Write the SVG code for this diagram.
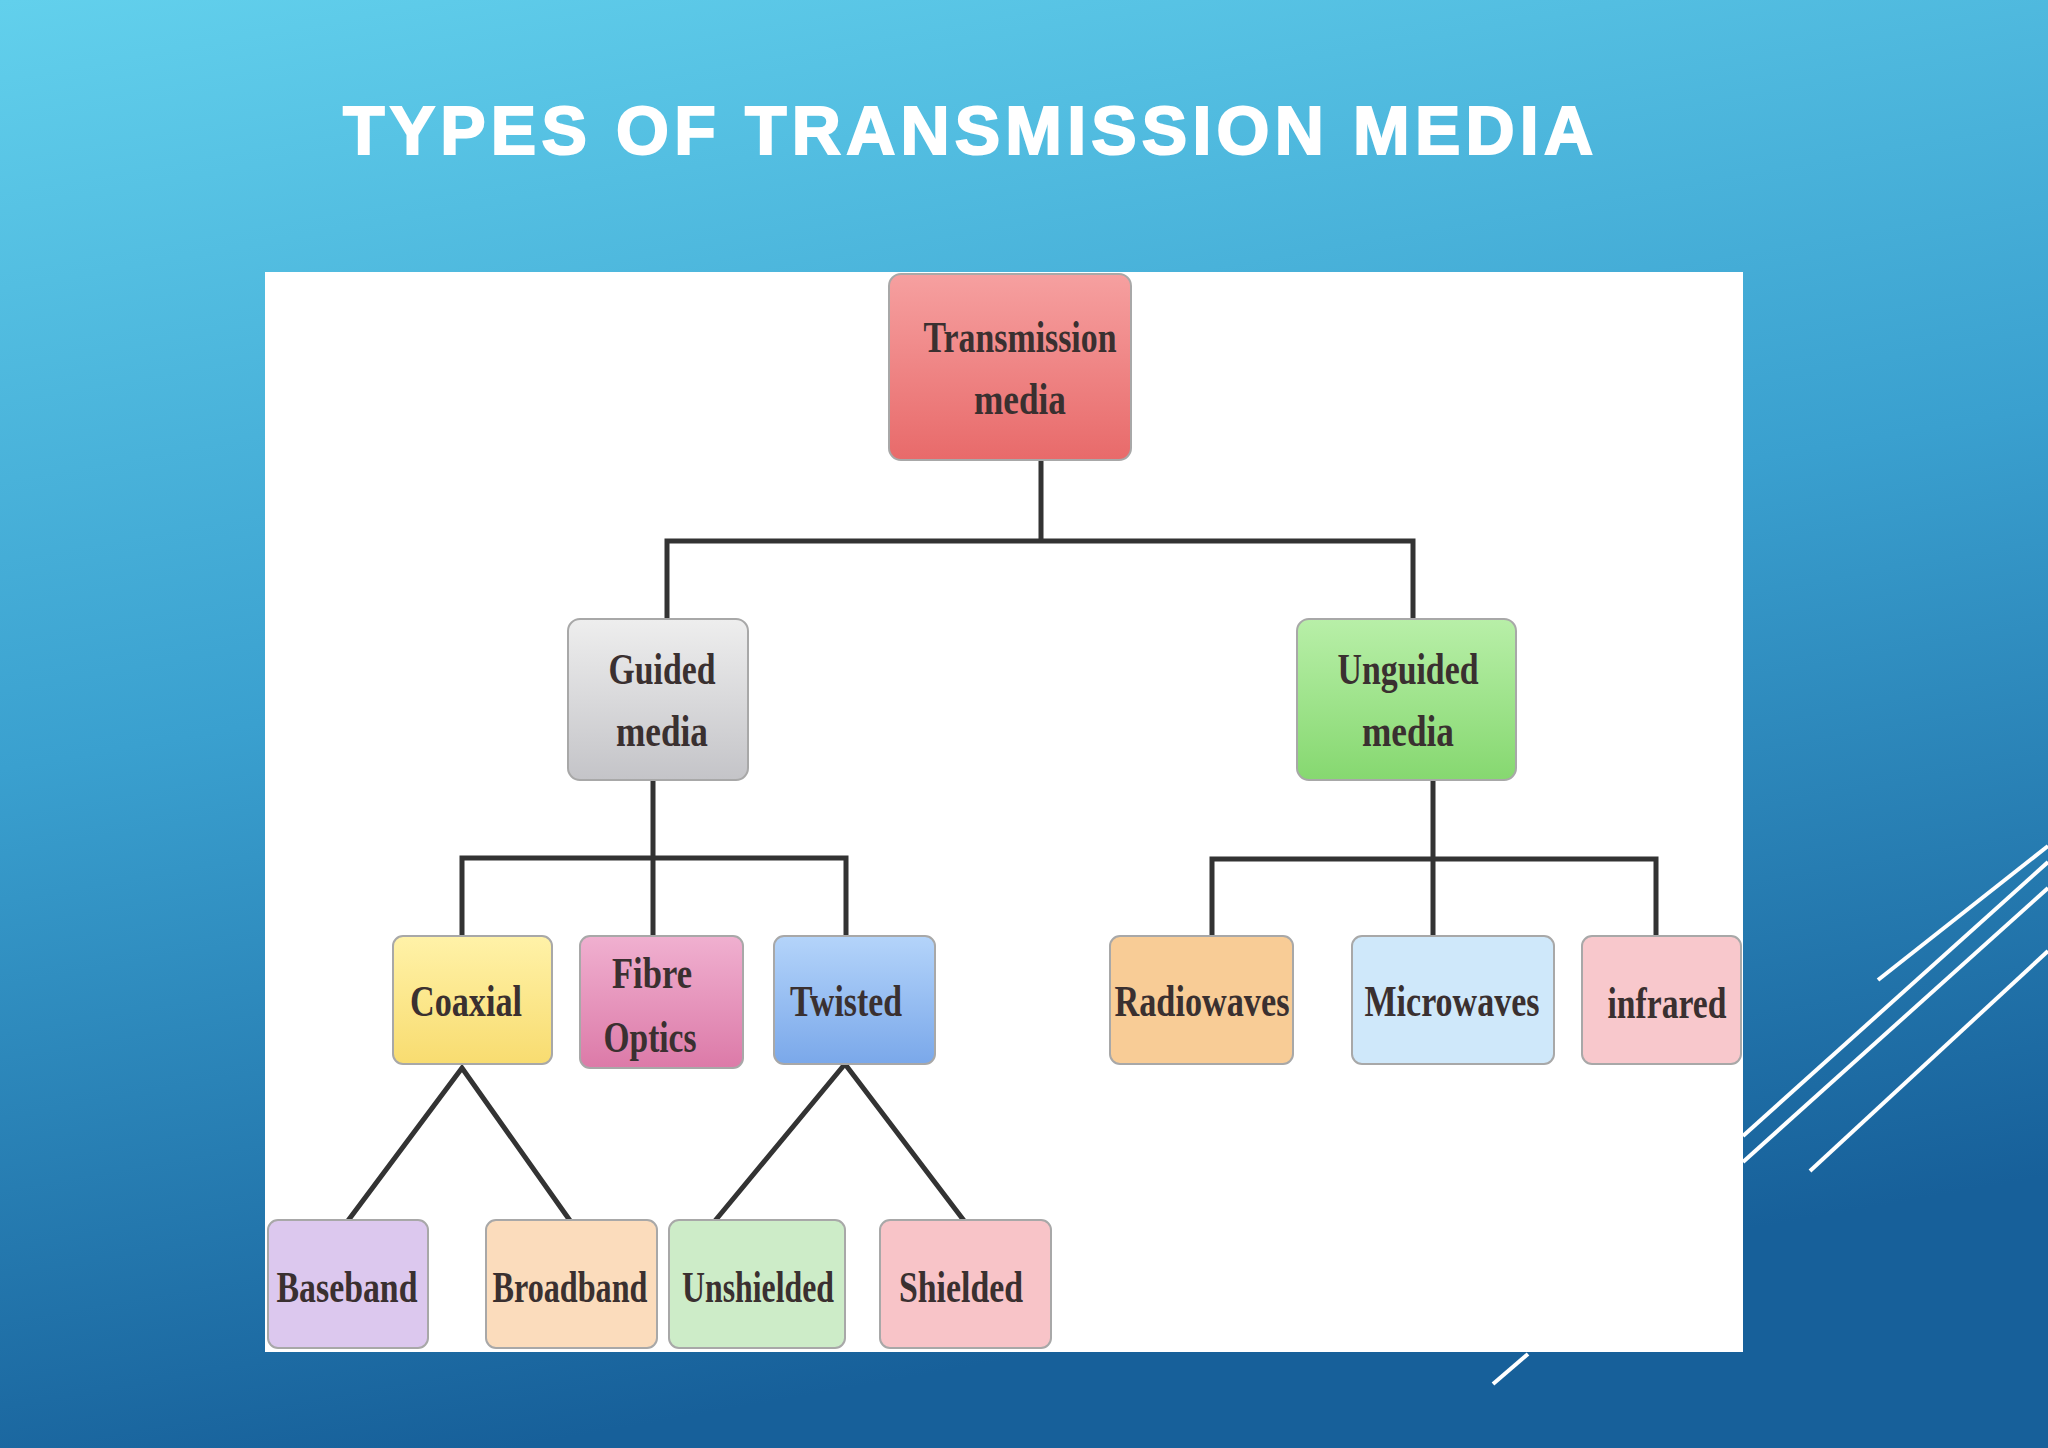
<svg xmlns="http://www.w3.org/2000/svg" width="2048" height="1448" viewBox="0 0 2048 1448">
<defs>
<linearGradient id="bg" x1="0" y1="0" x2="0.25" y2="1"><stop offset="0" stop-color="#62d0ec"/><stop offset="0.5" stop-color="#3aa0cf"/><stop offset="1" stop-color="#17609a"/></linearGradient>
<linearGradient id="gRed" x1="0" y1="0" x2="0" y2="1"><stop offset="0" stop-color="#f6a0a0"/><stop offset="1" stop-color="#e86a6a"/></linearGradient>
<linearGradient id="gGrey" x1="0" y1="0" x2="0" y2="1"><stop offset="0" stop-color="#eeeeee"/><stop offset="1" stop-color="#c4c4c8"/></linearGradient>
<linearGradient id="gGreen" x1="0" y1="0" x2="0" y2="1"><stop offset="0" stop-color="#b8efa8"/><stop offset="1" stop-color="#86d870"/></linearGradient>
<linearGradient id="gYel" x1="0" y1="0" x2="0" y2="1"><stop offset="0" stop-color="#fff2a8"/><stop offset="1" stop-color="#f8dc70"/></linearGradient>
<linearGradient id="gPink" x1="0" y1="0" x2="0" y2="1"><stop offset="0" stop-color="#f0b0d0"/><stop offset="1" stop-color="#dc7aa8"/></linearGradient>
<linearGradient id="gBlue" x1="0" y1="0" x2="0" y2="1"><stop offset="0" stop-color="#b4d4fa"/><stop offset="1" stop-color="#7aa8ea"/></linearGradient>
<style>
.n{stroke:#a8a8a8;stroke-width:2}
.t{font-family:"Liberation Serif",serif;font-weight:bold;font-size:44px;fill:#3a3030;text-anchor:middle}
.c{stroke:#333;stroke-width:5;fill:none}
.d{stroke:#fff;stroke-width:4}
</style>
</defs>
<rect width="2048" height="1448" fill="url(#bg)"/>
<text x="343" y="154" font-family="Liberation Sans,Arial,sans-serif" font-weight="bold" font-size="68" fill="#fff" stroke="#fff" stroke-width="2" letter-spacing="3" textLength="1253" lengthAdjust="spacing">TYPES OF TRANSMISSION MEDIA</text>
<rect x="265" y="272" width="1478" height="1080" fill="#fff"/>
<g id="connectors">
<path class="c" d="M1041 460V541M667 619V541H1413V619"/>
<path class="c" d="M653 780V858M462 936V858H846V936M653 858V936"/>
<path class="c" d="M1433 780V859M1212 936V859H1656V936M1433 859V936"/>
<path class="c" d="M347 1222L462 1068L571 1222M714 1222L845 1064L965 1222"/>
</g>
<g id="n-tm"><rect class="n" x="889" y="274" width="242" height="186" rx="12" fill="url(#gRed)"/><text class="t" x="1020" y="352" textLength="193" lengthAdjust="spacingAndGlyphs">Transmission</text><text class="t" x="1020" y="414" textLength="92" lengthAdjust="spacingAndGlyphs">media</text></g>
<g id="n-guided"><rect class="n" x="568" y="619" width="180" height="161" rx="12" fill="url(#gGrey)"/><text class="t" x="662" y="684" textLength="107" lengthAdjust="spacingAndGlyphs">Guided</text><text class="t" x="662" y="746" textLength="92" lengthAdjust="spacingAndGlyphs">media</text></g>
<g id="n-unguided"><rect class="n" x="1297" y="619" width="219" height="161" rx="12" fill="url(#gGreen)"/><text class="t" x="1408" y="684" textLength="141" lengthAdjust="spacingAndGlyphs">Unguided</text><text class="t" x="1408" y="746" textLength="92" lengthAdjust="spacingAndGlyphs">media</text></g>
<g id="n-coaxial"><rect class="n" x="393" y="936" width="159" height="128" rx="10" fill="url(#gYel)"/><text class="t" x="466" y="1016" textLength="112" lengthAdjust="spacingAndGlyphs">Coaxial</text></g>
<g id="n-fibre"><rect class="n" x="580" y="936" width="163" height="132" rx="10" fill="url(#gPink)"/><text class="t" x="652" y="988" textLength="80" lengthAdjust="spacingAndGlyphs">Fibre</text><text class="t" x="650" y="1052" textLength="93" lengthAdjust="spacingAndGlyphs">Optics</text></g>
<g id="n-twisted"><rect class="n" x="774" y="936" width="161" height="128" rx="10" fill="url(#gBlue)"/><text class="t" x="846" y="1016" textLength="112" lengthAdjust="spacingAndGlyphs">Twisted</text></g>
<g id="n-radio"><rect class="n" x="1110" y="936" width="183" height="128" rx="10" fill="#f8cc96"/><text class="t" x="1202" y="1016" textLength="175" lengthAdjust="spacingAndGlyphs">Radiowaves</text></g>
<g id="n-micro"><rect class="n" x="1352" y="936" width="202" height="128" rx="10" fill="#cfe8fa"/><text class="t" x="1452" y="1016" textLength="175" lengthAdjust="spacingAndGlyphs">Microwaves</text></g>
<g id="n-infra"><rect class="n" x="1582" y="936" width="159" height="128" rx="10" fill="#f8c8cc"/><text class="t" x="1667" y="1018" textLength="119" lengthAdjust="spacingAndGlyphs">infrared</text></g>
<g id="n-base"><rect class="n" x="268" y="1220" width="160" height="128" rx="10" fill="#dcc8ee"/><text class="t" x="347" y="1302" textLength="141" lengthAdjust="spacingAndGlyphs">Baseband</text></g>
<g id="n-broad"><rect class="n" x="486" y="1220" width="171" height="128" rx="10" fill="#fbdcbc"/><text class="t" x="570" y="1302" textLength="155" lengthAdjust="spacingAndGlyphs">Broadband</text></g>
<g id="n-unsh"><rect class="n" x="669" y="1220" width="176" height="128" rx="10" fill="#cdecc8"/><text class="t" x="758" y="1302" textLength="152" lengthAdjust="spacingAndGlyphs">Unshielded</text></g>
<g id="n-sh"><rect class="n" x="880" y="1220" width="171" height="128" rx="10" fill="#f8c4c8"/><text class="t" x="961" y="1302" textLength="124" lengthAdjust="spacingAndGlyphs">Shielded</text></g>
<g id="deco">
<line class="d" x1="1878" y1="980" x2="2048" y2="846" stroke-width="2"/>
<line class="d" x1="1743" y1="1136" x2="2048" y2="862"/>
<line class="d" x1="1743" y1="1162" x2="2048" y2="888"/>
<line class="d" x1="1810" y1="1171" x2="2048" y2="951"/>
<line class="d" x1="1493" y1="1384" x2="1528" y2="1354" stroke-width="2"/>
</g>
</svg>
